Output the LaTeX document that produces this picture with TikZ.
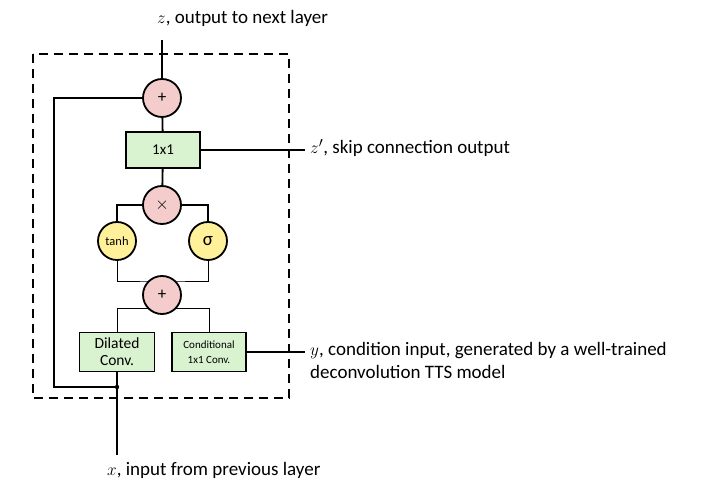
\documentclass[tikz,border=0pt]{standalone}
\usepackage{fontspec}
\setmainfont{Carlito}
\usetikzlibrary{backgrounds}
\begin{document}
\begin{tikzpicture}[x=1pt,y=-1pt,line width=1.8pt,
  op/.style={circle,draw,fill=opfill,minimum size=38pt,inner sep=0pt,font=\fontsize{17}{17}\selectfont},
  act/.style={circle,draw,fill=actfill,minimum size=38pt,inner sep=0pt},
  box/.style={rectangle,draw,fill=boxfill,inner sep=0pt,align=center},
  lbl/.style={anchor=west,font=\fontsize{19}{23}\selectfont,align=left}]
\definecolor{opfill}{HTML}{F4CCCC}
\definecolor{actfill}{HTML}{FFF09A}
\definecolor{boxfill}{HTML}{D9F2D0}
\useasboundingbox (0,0) rectangle (720,502);
\draw[dash pattern=on 9pt off 6pt] (33,54) rectangle (289,398);
\node[op] (p1) at (162,98) {+};
\node[box,minimum width=74pt,minimum height=36pt,font=\fontsize{15}{15}\selectfont] (b1) at (163,150) {1x1};
\node[op] (m) at (162,205) {$\times$};
\node[act,font=\fontsize{12.5}{12}\selectfont] (t) at (117,241) {tanh};
\node[act,font=\fontsize{19}{19}\selectfont] (s) at (208,241) {σ};
\node[op] (p2) at (162,295) {+};
\node[box,minimum width=75pt,minimum height=39pt,font=\fontsize{15.5}{17}\selectfont] (d) at (117,352) {Dilated\\Conv.};
\node[box,minimum width=74pt,minimum height=39pt,font=\fontsize{11}{15}\selectfont] (c) at (209,352) {Conditional\\1x1 Conv.};
\coordinate (zo) at (162,40);
\coordinate (xi) at (117,455);
\coordinate (res) at (117,387);
\coordinate (sk) at (305,150);
\coordinate (co) at (305,352);
\begin{scope}[on background layer,line width=1.8pt]
\draw (t) |- (162,281) -| (s);
\draw (p2) -- (162,308) -| (d);
\draw (162,308) -| (c);
\end{scope}
\draw (zo) -- (p1);
\draw (p1) -- (b1);
\draw (b1) -- (m);
\draw (m.west) -| (t);
\draw (m.east) -| (s);
\draw (xi) -- (d);
\draw (res) -- (54,387) |- (p1);
\fill (res) circle (2.2pt);
\draw (b1) -- (sk);
\draw (c) -- (co);
\node[lbl] at (153,18) {$z$, output to next layer};
\node[lbl] at (306,148) {$z'$, skip connection output};
\node[lbl,anchor=north west] at (306,338) {$y$, condition input, generated by a well-trained\\deconvolution TTS model};
\node[lbl] at (103,470) {$x$, input from previous layer};
\end{tikzpicture}
\end{document}
